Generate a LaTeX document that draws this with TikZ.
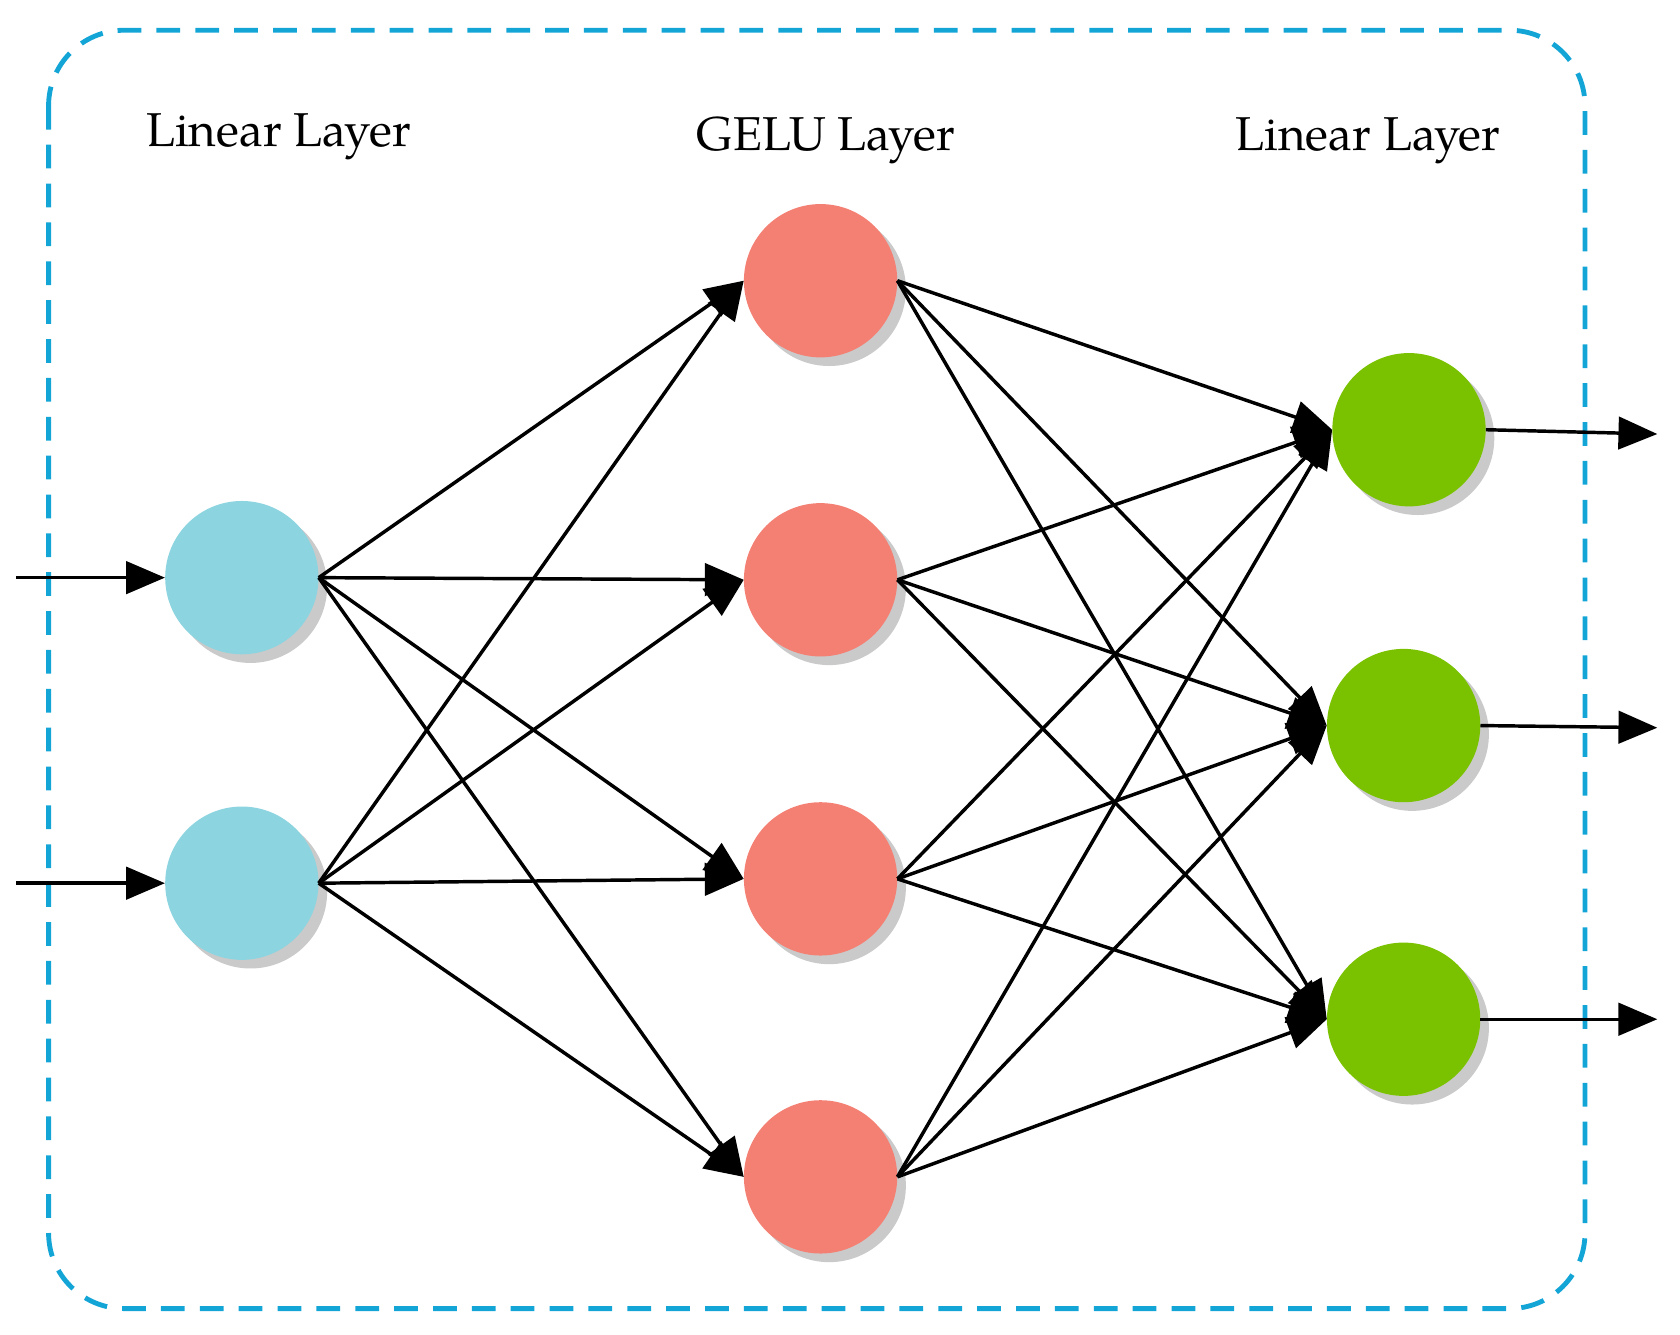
\documentclass[tikz,border=0pt]{standalone}
\usepackage{fontspec}
\setmainfont{TeX Gyre Pagella}
\usetikzlibrary{arrows.meta,shadows}
\begin{document}
\begin{tikzpicture}[x=1pt,y=-1pt,
  neuron/.style={circle,minimum size=142pt,inner sep=0pt,draw=none,
    drop shadow={shadow xshift=8pt,shadow yshift=-8pt,opacity=0.35,fill=black!60}},
  blue/.style={neuron,fill={rgb,255:red,140;green,212;blue,224}},
  red/.style={neuron,fill={rgb,255:red,244;green,128;blue,116}},
  green/.style={neuron,fill={rgb,255:red,122;green,194;blue,0}},
  conn/.style={line width=3.2pt,-{Triangle[length=36pt,width=30pt]}},
  lbl/.style={font=\fontsize{44}{52}\selectfont}]
\useasboundingbox (0,0) rectangle (1556,1236);
\draw[line width=4.5pt,dash pattern=on 22pt off 14pt,color={rgb,255:red,20;green,165;blue,215},rounded corners=70pt] (45,28) rectangle (1468,1212);
\node[lbl] at (258,127) {Linear Layer};
\node[lbl] at (765,130) {GELU Layer};
\node[lbl] at (1267,130) {Linear Layer};
\node[blue] (a1) at (224,535) {};
\node[blue] (a2) at (224,818) {};
\node[red] (b1) at (760,260) {};
\node[red] (b2) at (760,537) {};
\node[red] (b3) at (760,814) {};
\node[red] (b4) at (760,1090) {};
\node[green] (c1) at (1305,398) {};
\node[green] (c2) at (1300,672) {};
\node[green] (c3) at (1300,944) {};
\coordinate (i1) at (15,535);
\coordinate (i2) at (15,818);
\coordinate (o1) at (1535,402);
\coordinate (o2) at (1535,674);
\coordinate (o3) at (1535,944);
\draw[conn] (i1) -- (a1.west);
\draw[conn] (i2) -- (a2.west);
\foreach \a in {a1,a2}{\foreach \b in {b1,b2,b3,b4}{\draw[conn] (\a.east) -- (\b.west);}}
\foreach \b in {b1,b2,b3,b4}{\foreach \c in {c1,c2,c3}{\draw[conn] (\b.east) -- (\c.west);}}
\draw[conn] (c1.east) -- (o1);
\draw[conn] (c2.east) -- (o2);
\draw[conn] (c3.east) -- (o3);
\end{tikzpicture}
\end{document}
